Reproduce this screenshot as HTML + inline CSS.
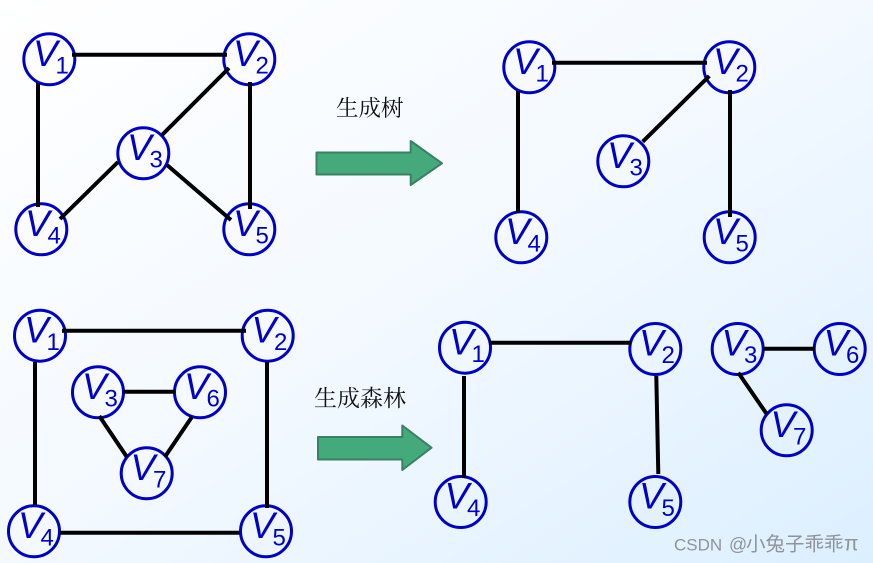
<!DOCTYPE html>
<html lang="zh">
<head>
<meta charset="utf-8">
<title>生成树与生成森林</title>
<style>
html,body{margin:0;padding:0;width:873px;height:563px;overflow:hidden;background:#fff}
svg{display:block}
.c{fill:none;stroke:#0000c4;stroke-width:3}
.v{font:italic 37px "Liberation Sans",sans-serif;fill:#0000c8}
.s{font:24px "Liberation Sans",sans-serif;fill:#0000c8}
.l{stroke:#000;stroke-width:4;fill:none}
.h{font:22.5px "Noto Serif CJK SC","Liberation Serif",serif;fill:#111}
.h2{font-size:23px}
.a{fill:#45aa7b;stroke:#3a8063;stroke-width:2;stroke-linejoin:round}
.w{font:17px "Liberation Sans","Noto Sans CJK SC",sans-serif;fill:#8f9499}
</style>
</head>
<body>
<svg width="873" height="563" viewBox="0 0 873 563" xmlns="http://www.w3.org/2000/svg">
<defs>
<linearGradient id="bg" x1="0" y1="0" x2="1" y2="1">
<stop offset="0" stop-color="#ffffff"/>
<stop offset="0.5" stop-color="#f3f9ff"/>
<stop offset="1" stop-color="#dcefff"/>
</linearGradient>
</defs>
<rect width="873" height="563" fill="url(#bg)"/>

<!-- Graph 1 -->
<g>
<circle class="c" cx="49.3" cy="59.3" r="25.5"/><text class="v" x="33" y="66">V</text><text class="s" x="55.5" y="73.5">1</text>
<circle class="c" cx="249.3" cy="59.3" r="25.5"/><text class="v" x="233" y="66">V</text><text class="s" x="255.5" y="73.5">2</text>
<circle class="c" cx="143.3" cy="153.3" r="25.5"/><text class="v" x="127" y="160">V</text><text class="s" x="149.5" y="167.5">3</text>
<circle class="c" cx="41.3" cy="229.3" r="25.5"/><text class="v" x="25" y="236">V</text><text class="s" x="47.5" y="243.5">4</text>
<circle class="c" cx="249.3" cy="229.3" r="25.5"/><text class="v" x="233" y="236">V</text><text class="s" x="255.5" y="243.5">5</text>
<path class="l" d="M72 54.7H227M38 83V207M250 82V209M162 135L229 68M118 162L60 219M167 165L231 220"/>
</g>

<!-- Graph 2 -->
<g>
<circle class="c" cx="529.3" cy="67.3" r="25.5"/><text class="v" x="513" y="74">V</text><text class="s" x="535.5" y="81.5">1</text>
<circle class="c" cx="729.3" cy="67.3" r="25.5"/><text class="v" x="713" y="74">V</text><text class="s" x="735.5" y="81.5">2</text>
<circle class="c" cx="623.3" cy="161.3" r="25.5"/><text class="v" x="607" y="168">V</text><text class="s" x="629.5" y="175.5">3</text>
<circle class="c" cx="521.3" cy="237.3" r="25.5"/><text class="v" x="505" y="244">V</text><text class="s" x="527.5" y="251.5">4</text>
<circle class="c" cx="729.7" cy="237.3" r="25.5"/><text class="v" x="713" y="244">V</text><text class="s" x="735.5" y="251.5">5</text>
<path class="l" d="M552 62.7H707M518 91V213M730 90V217M642.7 141.7L709.3 76"/>
</g>

<!-- Graph 3 -->
<g>
<circle class="c" cx="40" cy="335.7" r="25.5"/><text class="v" x="24" y="342.5">V</text><text class="s" x="46.5" y="350">1</text>
<circle class="c" cx="267.7" cy="335.7" r="25.5"/><text class="v" x="251.5" y="342.5">V</text><text class="s" x="274" y="350">2</text>
<circle class="c" cx="98" cy="392.3" r="25.5"/><text class="v" x="82" y="399">V</text><text class="s" x="104.5" y="406.5">3</text>
<circle class="c" cx="200" cy="392.3" r="25.5"/><text class="v" x="184" y="399">V</text><text class="s" x="206.5" y="406.5">6</text>
<circle class="c" cx="146.7" cy="473.3" r="25.5"/><text class="v" x="130.5" y="480">V</text><text class="s" x="153" y="487.5">7</text>
<circle class="c" cx="34" cy="531.3" r="25.5"/><text class="v" x="18" y="538">V</text><text class="s" x="40.5" y="545.5">4</text>
<circle class="c" cx="266" cy="531.3" r="25.5"/><text class="v" x="250" y="538">V</text><text class="s" x="272.5" y="545.5">5</text>
<path class="l" d="M62 330.7H246M35 362V505M267 362V508M60 532.7H240M123 391.7H175M99.3 416L126.7 456.7M191.7 417.3L165 456.7"/>
</g>

<!-- Graph 4 -->
<g>
<circle class="c" cx="465" cy="347.7" r="25.5"/><text class="v" x="449" y="354.5">V</text><text class="s" x="471.5" y="362">1</text>
<circle class="c" cx="655.3" cy="349" r="25.5"/><text class="v" x="639" y="355.5">V</text><text class="s" x="661.5" y="363">2</text>
<circle class="c" cx="737.7" cy="349" r="25.5"/><text class="v" x="721.5" y="355.5">V</text><text class="s" x="744" y="363">3</text>
<circle class="c" cx="839.7" cy="349" r="25.5"/><text class="v" x="823.5" y="355.5">V</text><text class="s" x="846" y="363">6</text>
<circle class="c" cx="786.7" cy="430.3" r="25.5"/><text class="v" x="770.5" y="437">V</text><text class="s" x="793" y="444.5">7</text>
<circle class="c" cx="460.7" cy="502" r="25.5"/><text class="v" x="444.5" y="508.5">V</text><text class="s" x="467" y="516">4</text>
<circle class="c" cx="655.3" cy="502" r="25.5"/><text class="v" x="639" y="508.5">V</text><text class="s" x="661.5" y="516">5</text>
<path class="l" d="M489 342.7H631M464 376V478M656.3 376L658.3 474M763 348.7H815M738.3 372.7L766.7 414"/>
</g>

<!-- Arrows -->
<polygon class="a" points="316.5,152.5 410.7,152.5 410.7,141 442,163.3 410.7,185 410.7,174.5 316.5,174.5"/>
<polygon class="a" points="318,437 402.3,437 402.3,425.5 431.5,447.7 402.3,470 402.3,459.5 318,459.5"/>

<!-- Labels -->
<text class="h" x="336" y="116">生成树</text>
<text class="h h2" x="314" y="406">生成森林</text>

<!-- Watermark -->
<text class="w" x="674" y="550.5">CSDN<tspan x="729" font-size="18">@</tspan><tspan x="746" font-size="19.5">小兔子乖乖</tspan><tspan x="844" font-size="21">π</tspan></text>
</svg>
</body>
</html>
